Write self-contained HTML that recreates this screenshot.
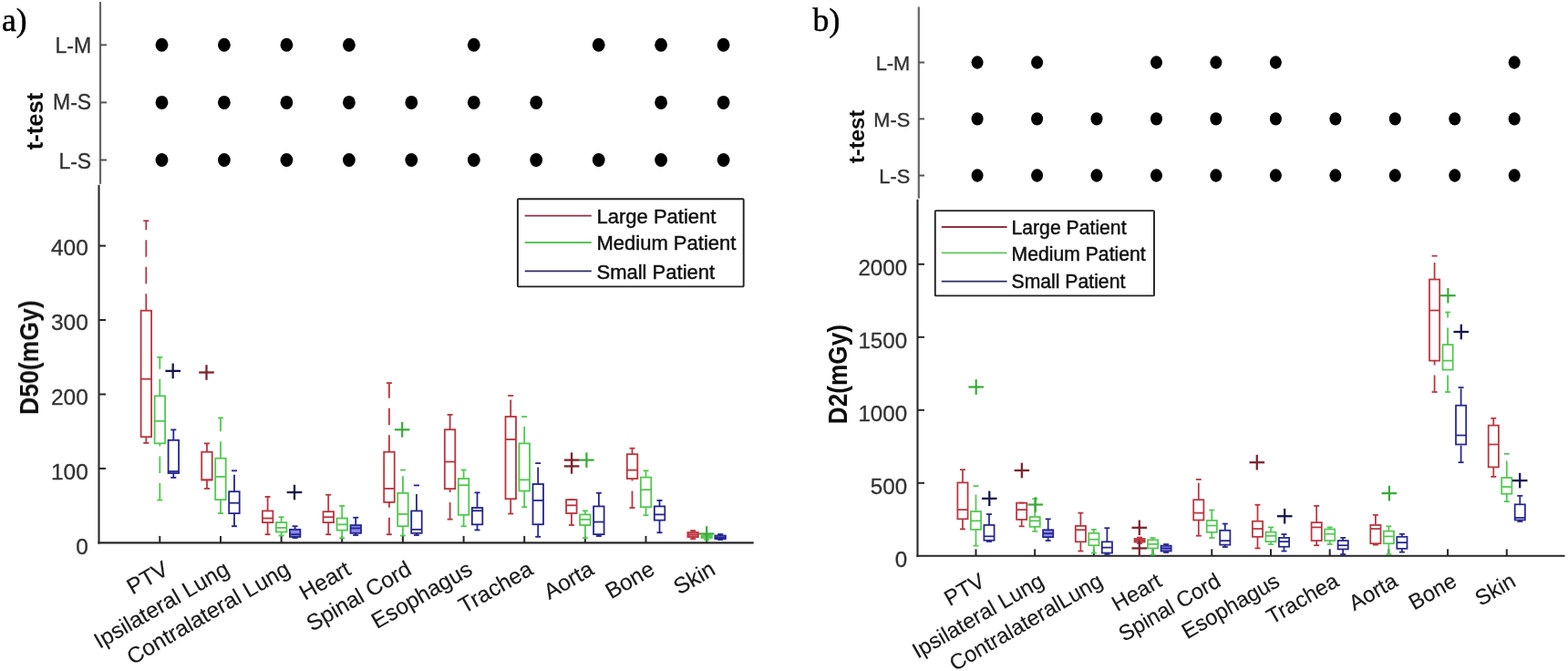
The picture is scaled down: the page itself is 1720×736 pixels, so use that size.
<!DOCTYPE html>
<html><head><meta charset="utf-8"><title>Boxplot figure</title>
<style>html,body{margin:0;padding:0;background:#fff;}svg{display:block;}</style></head>
<body><svg width="1720" height="736" viewBox="0 0 1720 736">
<defs><filter id="soft" filterUnits="userSpaceOnUse" x="0" y="0" width="1720" height="736"><feGaussianBlur stdDeviation="0.65"/></filter></defs>
<rect width="1720" height="736" fill="#fff"/>
<g filter="url(#soft)">
<text x="2.0" y="34.3" font-family="'Liberation Serif', 'Times New Roman', serif" font-size="35.5" font-weight="normal" fill="#000" text-anchor="start" stroke="#000" stroke-width="0.5">a)</text>
<line x1="110.0" y1="2.0" x2="110.0" y2="201.8" stroke="#666" stroke-width="2.2" />
<line x1="110.0" y1="49.3" x2="117.0" y2="49.3" stroke="#555" stroke-width="2" />
<line x1="110.0" y1="112.4" x2="117.0" y2="112.4" stroke="#555" stroke-width="2" />
<line x1="110.0" y1="175.5" x2="117.0" y2="175.5" stroke="#555" stroke-width="2" />
<text x="100.2" y="57.5" font-family="'Liberation Sans', Arial, sans-serif" font-size="23" font-weight="normal" fill="#333" text-anchor="end"  stroke="#333" stroke-width="0.35">L-M</text>
<text x="100.2" y="120.1" font-family="'Liberation Sans', Arial, sans-serif" font-size="23" font-weight="normal" fill="#333" text-anchor="end"  stroke="#333" stroke-width="0.35">M-S</text>
<text x="100.2" y="184.5" font-family="'Liberation Sans', Arial, sans-serif" font-size="23" font-weight="normal" fill="#333" text-anchor="end"  stroke="#333" stroke-width="0.35">L-S</text>
<text x="0.0" y="0.0" font-family="'Liberation Sans', Arial, sans-serif" font-size="25.5" font-weight="bold" fill="#111" text-anchor="middle" transform="translate(47,133) rotate(-90)" >t-test</text>
<ellipse cx="177.5" cy="49.3" rx="6.9" ry="7.5" fill="#000"/>
<ellipse cx="245.9" cy="49.3" rx="6.9" ry="7.5" fill="#000"/>
<ellipse cx="314.4" cy="49.3" rx="6.9" ry="7.5" fill="#000"/>
<ellipse cx="382.9" cy="49.3" rx="6.9" ry="7.5" fill="#000"/>
<ellipse cx="519.8" cy="49.3" rx="6.9" ry="7.5" fill="#000"/>
<ellipse cx="656.7" cy="49.3" rx="6.9" ry="7.5" fill="#000"/>
<ellipse cx="725.1" cy="49.3" rx="6.9" ry="7.5" fill="#000"/>
<ellipse cx="793.6" cy="49.3" rx="6.9" ry="7.5" fill="#000"/>
<ellipse cx="177.5" cy="112.4" rx="6.9" ry="7.5" fill="#000"/>
<ellipse cx="245.9" cy="112.4" rx="6.9" ry="7.5" fill="#000"/>
<ellipse cx="314.4" cy="112.4" rx="6.9" ry="7.5" fill="#000"/>
<ellipse cx="382.9" cy="112.4" rx="6.9" ry="7.5" fill="#000"/>
<ellipse cx="451.3" cy="112.4" rx="6.9" ry="7.5" fill="#000"/>
<ellipse cx="519.8" cy="112.4" rx="6.9" ry="7.5" fill="#000"/>
<ellipse cx="588.2" cy="112.4" rx="6.9" ry="7.5" fill="#000"/>
<ellipse cx="725.1" cy="112.4" rx="6.9" ry="7.5" fill="#000"/>
<ellipse cx="793.6" cy="112.4" rx="6.9" ry="7.5" fill="#000"/>
<ellipse cx="177.5" cy="175.5" rx="6.9" ry="7.5" fill="#000"/>
<ellipse cx="245.9" cy="175.5" rx="6.9" ry="7.5" fill="#000"/>
<ellipse cx="314.4" cy="175.5" rx="6.9" ry="7.5" fill="#000"/>
<ellipse cx="382.9" cy="175.5" rx="6.9" ry="7.5" fill="#000"/>
<ellipse cx="451.3" cy="175.5" rx="6.9" ry="7.5" fill="#000"/>
<ellipse cx="519.8" cy="175.5" rx="6.9" ry="7.5" fill="#000"/>
<ellipse cx="588.2" cy="175.5" rx="6.9" ry="7.5" fill="#000"/>
<ellipse cx="656.7" cy="175.5" rx="6.9" ry="7.5" fill="#000"/>
<ellipse cx="725.1" cy="175.5" rx="6.9" ry="7.5" fill="#000"/>
<ellipse cx="793.6" cy="175.5" rx="6.9" ry="7.5" fill="#000"/>
<line x1="108.5" y1="202.8" x2="108.5" y2="596.4" stroke="#262626" stroke-width="2.1" />
<line x1="107.5" y1="595.4" x2="826.7" y2="595.4" stroke="#262626" stroke-width="2.1" />
<text x="96.8" y="607.7" font-family="'Liberation Sans', Arial, sans-serif" font-size="24.5" font-weight="normal" fill="#333" text-anchor="end"  stroke="#333" stroke-width="0.3">0</text>
<line x1="108.5" y1="513.9" x2="116.0" y2="513.9" stroke="#262626" stroke-width="2" />
<text x="96.8" y="525.8" font-family="'Liberation Sans', Arial, sans-serif" font-size="24.5" font-weight="normal" fill="#333" text-anchor="end"  stroke="#333" stroke-width="0.3">100</text>
<line x1="108.5" y1="432.5" x2="116.0" y2="432.5" stroke="#262626" stroke-width="2" />
<text x="96.8" y="444.4" font-family="'Liberation Sans', Arial, sans-serif" font-size="24.5" font-weight="normal" fill="#333" text-anchor="end"  stroke="#333" stroke-width="0.3">200</text>
<line x1="108.5" y1="351.0" x2="116.0" y2="351.0" stroke="#262626" stroke-width="2" />
<text x="96.8" y="361.6" font-family="'Liberation Sans', Arial, sans-serif" font-size="24.5" font-weight="normal" fill="#333" text-anchor="end"  stroke="#333" stroke-width="0.3">300</text>
<line x1="108.5" y1="269.6" x2="116.0" y2="269.6" stroke="#262626" stroke-width="2" />
<text x="96.8" y="280.1" font-family="'Liberation Sans', Arial, sans-serif" font-size="24.5" font-weight="normal" fill="#333" text-anchor="end"  stroke="#333" stroke-width="0.3">400</text>
<line x1="175.3" y1="595.4" x2="175.3" y2="587.9" stroke="#262626" stroke-width="2" />
<text x="0.0" y="0.0" font-family="'Liberation Sans', Arial, sans-serif" font-size="24.5" font-weight="normal" fill="#1a1a1a" text-anchor="end" transform="translate(186.5,629) rotate(-30)"  stroke="#1a1a1a" stroke-width="0.15">PTV</text>
<line x1="242.0" y1="595.4" x2="242.0" y2="587.9" stroke="#262626" stroke-width="2" />
<text x="0.0" y="0.0" font-family="'Liberation Sans', Arial, sans-serif" font-size="24.5" font-weight="normal" fill="#1a1a1a" text-anchor="end" transform="translate(253.2,629) rotate(-30)"  stroke="#1a1a1a" stroke-width="0.15">Ipsilateral Lung</text>
<line x1="308.6" y1="595.4" x2="308.6" y2="587.9" stroke="#262626" stroke-width="2" />
<text x="0.0" y="0.0" font-family="'Liberation Sans', Arial, sans-serif" font-size="24.5" font-weight="normal" fill="#1a1a1a" text-anchor="end" transform="translate(319.8,629) rotate(-30)"  stroke="#1a1a1a" stroke-width="0.15">Contralateral Lung</text>
<line x1="375.2" y1="595.4" x2="375.2" y2="587.9" stroke="#262626" stroke-width="2" />
<text x="0.0" y="0.0" font-family="'Liberation Sans', Arial, sans-serif" font-size="24.5" font-weight="normal" fill="#1a1a1a" text-anchor="end" transform="translate(386.4,629) rotate(-30)"  stroke="#1a1a1a" stroke-width="0.15">Heart</text>
<line x1="441.9" y1="595.4" x2="441.9" y2="587.9" stroke="#262626" stroke-width="2" />
<text x="0.0" y="0.0" font-family="'Liberation Sans', Arial, sans-serif" font-size="24.5" font-weight="normal" fill="#1a1a1a" text-anchor="end" transform="translate(453.1,629) rotate(-30)"  stroke="#1a1a1a" stroke-width="0.15">Spinal Cord</text>
<line x1="508.6" y1="595.4" x2="508.6" y2="587.9" stroke="#262626" stroke-width="2" />
<text x="0.0" y="0.0" font-family="'Liberation Sans', Arial, sans-serif" font-size="24.5" font-weight="normal" fill="#1a1a1a" text-anchor="end" transform="translate(519.8,629) rotate(-30)"  stroke="#1a1a1a" stroke-width="0.15">Esophagus</text>
<line x1="575.2" y1="595.4" x2="575.2" y2="587.9" stroke="#262626" stroke-width="2" />
<text x="0.0" y="0.0" font-family="'Liberation Sans', Arial, sans-serif" font-size="24.5" font-weight="normal" fill="#1a1a1a" text-anchor="end" transform="translate(586.4,629) rotate(-30)"  stroke="#1a1a1a" stroke-width="0.15">Trachea</text>
<line x1="641.9" y1="595.4" x2="641.9" y2="587.9" stroke="#262626" stroke-width="2" />
<text x="0.0" y="0.0" font-family="'Liberation Sans', Arial, sans-serif" font-size="24.5" font-weight="normal" fill="#1a1a1a" text-anchor="end" transform="translate(653.1,629) rotate(-30)"  stroke="#1a1a1a" stroke-width="0.15">Aorta</text>
<line x1="708.5" y1="595.4" x2="708.5" y2="587.9" stroke="#262626" stroke-width="2" />
<text x="0.0" y="0.0" font-family="'Liberation Sans', Arial, sans-serif" font-size="24.5" font-weight="normal" fill="#1a1a1a" text-anchor="end" transform="translate(719.7,629) rotate(-30)"  stroke="#1a1a1a" stroke-width="0.15">Bone</text>
<line x1="775.2" y1="595.4" x2="775.2" y2="587.9" stroke="#262626" stroke-width="2" />
<text x="0.0" y="0.0" font-family="'Liberation Sans', Arial, sans-serif" font-size="24.5" font-weight="normal" fill="#1a1a1a" text-anchor="end" transform="translate(786.4,629) rotate(-30)"  stroke="#1a1a1a" stroke-width="0.15">Skin</text>
<text x="0.0" y="0.0" font-family="'Liberation Sans', Arial, sans-serif" font-size="26.6" font-weight="bold" fill="#111" text-anchor="middle" transform="translate(41.5,392.2) rotate(-90) scale(1,1.1)" >D50(mGy)</text>
<rect x="567.9" y="218.2" width="247.8" height="96.2" fill="#fff" stroke="#222" stroke-width="1.9" rx="1"/>
<line x1="575.7" y1="236.7" x2="648.8" y2="236.7" stroke="#8e3344" stroke-width="1.8" />
<text x="654.5" y="244.7" font-family="'Liberation Sans', Arial, sans-serif" font-size="22" font-weight="normal" fill="#111" text-anchor="start"  stroke="#111" stroke-width="0.45">Large Patient</text>
<line x1="575.7" y1="266.0" x2="648.8" y2="266.0" stroke="#5cc45c" stroke-width="1.8" />
<text x="654.5" y="274.4" font-family="'Liberation Sans', Arial, sans-serif" font-size="22" font-weight="normal" fill="#111" text-anchor="start"  stroke="#111" stroke-width="0.45">Medium Patient</text>
<line x1="575.7" y1="297.3" x2="648.8" y2="297.3" stroke="#2c2c66" stroke-width="1.8" />
<text x="654.5" y="306.0" font-family="'Liberation Sans', Arial, sans-serif" font-size="22" font-weight="normal" fill="#111" text-anchor="start"  stroke="#111" stroke-width="0.45">Small Patient</text>
<line x1="160.3" y1="340.7" x2="160.3" y2="242.2" stroke="#b8343f" stroke-width="1.8" stroke-dasharray="18.5 11"/>
<line x1="160.3" y1="485.9" x2="160.3" y2="479.2" stroke="#b8343f" stroke-width="1.8" stroke-dasharray="18.5 11"/>
<line x1="157.3" y1="242.2" x2="163.3" y2="242.2" stroke="#b8343f" stroke-width="1.8" />
<line x1="157.3" y1="485.9" x2="163.3" y2="485.9" stroke="#b8343f" stroke-width="1.8" />
<rect x="154.6" y="340.7" width="11.5" height="138.5" fill="none" stroke="#b8343f" stroke-width="1.8"/>
<line x1="154.6" y1="415.7" x2="166.1" y2="415.7" stroke="#b8343f" stroke-width="1.8" />
<line x1="175.3" y1="434.3" x2="175.3" y2="391.9" stroke="#50c850" stroke-width="1.8" stroke-dasharray="18.5 11"/>
<line x1="175.3" y1="548.6" x2="175.3" y2="486.3" stroke="#50c850" stroke-width="1.8" stroke-dasharray="18.5 11"/>
<line x1="172.3" y1="391.9" x2="178.3" y2="391.9" stroke="#50c850" stroke-width="1.8" />
<line x1="172.3" y1="548.6" x2="178.3" y2="548.6" stroke="#50c850" stroke-width="1.8" />
<rect x="169.6" y="434.3" width="11.5" height="52.0" fill="none" stroke="#50c850" stroke-width="1.8"/>
<line x1="169.6" y1="461.8" x2="181.1" y2="461.8" stroke="#50c850" stroke-width="1.8" />
<line x1="190.3" y1="482.8" x2="190.3" y2="471.4" stroke="#25258f" stroke-width="1.8" stroke-dasharray="18.5 11"/>
<line x1="190.3" y1="523.9" x2="190.3" y2="519.0" stroke="#25258f" stroke-width="1.8" stroke-dasharray="18.5 11"/>
<line x1="187.3" y1="471.4" x2="193.3" y2="471.4" stroke="#25258f" stroke-width="1.8" />
<line x1="187.3" y1="523.9" x2="193.3" y2="523.9" stroke="#25258f" stroke-width="1.8" />
<rect x="184.6" y="482.8" width="11.5" height="36.2" fill="none" stroke="#25258f" stroke-width="1.8"/>
<line x1="184.6" y1="517.0" x2="196.1" y2="517.0" stroke="#25258f" stroke-width="1.8" />
<line x1="227.0" y1="495.7" x2="227.0" y2="486.4" stroke="#b8343f" stroke-width="1.8" stroke-dasharray="18.5 11"/>
<line x1="227.0" y1="535.9" x2="227.0" y2="526.4" stroke="#b8343f" stroke-width="1.8" stroke-dasharray="18.5 11"/>
<line x1="224.0" y1="486.4" x2="230.0" y2="486.4" stroke="#b8343f" stroke-width="1.8" />
<line x1="224.0" y1="535.9" x2="230.0" y2="535.9" stroke="#b8343f" stroke-width="1.8" />
<rect x="221.2" y="495.7" width="11.5" height="30.7" fill="none" stroke="#b8343f" stroke-width="1.8"/>
<line x1="221.2" y1="526.4" x2="232.7" y2="526.4" stroke="#b8343f" stroke-width="1.8" />
<line x1="242.0" y1="502.7" x2="242.0" y2="458.4" stroke="#50c850" stroke-width="1.8" stroke-dasharray="18.5 11"/>
<line x1="242.0" y1="563.1" x2="242.0" y2="548.1" stroke="#50c850" stroke-width="1.8" stroke-dasharray="18.5 11"/>
<line x1="239.0" y1="458.4" x2="245.0" y2="458.4" stroke="#50c850" stroke-width="1.8" />
<line x1="239.0" y1="563.1" x2="245.0" y2="563.1" stroke="#50c850" stroke-width="1.8" />
<rect x="236.2" y="502.7" width="11.5" height="45.4" fill="none" stroke="#50c850" stroke-width="1.8"/>
<line x1="236.2" y1="522.9" x2="247.7" y2="522.9" stroke="#50c850" stroke-width="1.8" />
<line x1="257.0" y1="539.2" x2="257.0" y2="516.3" stroke="#25258f" stroke-width="1.8" stroke-dasharray="18.5 11"/>
<line x1="257.0" y1="577.2" x2="257.0" y2="563.1" stroke="#25258f" stroke-width="1.8" stroke-dasharray="18.5 11"/>
<line x1="254.0" y1="516.3" x2="260.0" y2="516.3" stroke="#25258f" stroke-width="1.8" />
<line x1="254.0" y1="577.2" x2="260.0" y2="577.2" stroke="#25258f" stroke-width="1.8" />
<rect x="251.2" y="539.2" width="11.5" height="23.9" fill="none" stroke="#25258f" stroke-width="1.8"/>
<line x1="251.2" y1="551.7" x2="262.7" y2="551.7" stroke="#25258f" stroke-width="1.8" />
<line x1="293.6" y1="560.4" x2="293.6" y2="544.9" stroke="#b8343f" stroke-width="1.8" stroke-dasharray="18.5 11"/>
<line x1="293.6" y1="586.2" x2="293.6" y2="573.1" stroke="#b8343f" stroke-width="1.8" stroke-dasharray="18.5 11"/>
<line x1="290.6" y1="544.9" x2="296.6" y2="544.9" stroke="#b8343f" stroke-width="1.8" />
<line x1="290.6" y1="586.2" x2="296.6" y2="586.2" stroke="#b8343f" stroke-width="1.8" />
<rect x="287.9" y="560.4" width="11.5" height="12.7" fill="none" stroke="#b8343f" stroke-width="1.8"/>
<line x1="287.9" y1="568.5" x2="299.4" y2="568.5" stroke="#b8343f" stroke-width="1.8" />
<line x1="308.6" y1="573.1" x2="308.6" y2="567.2" stroke="#50c850" stroke-width="1.8" stroke-dasharray="18.5 11"/>
<line x1="308.6" y1="587.5" x2="308.6" y2="583.5" stroke="#50c850" stroke-width="1.8" stroke-dasharray="18.5 11"/>
<line x1="305.6" y1="567.2" x2="311.6" y2="567.2" stroke="#50c850" stroke-width="1.8" />
<line x1="305.6" y1="587.5" x2="311.6" y2="587.5" stroke="#50c850" stroke-width="1.8" />
<rect x="302.9" y="573.1" width="11.5" height="10.4" fill="none" stroke="#50c850" stroke-width="1.8"/>
<line x1="302.9" y1="578.9" x2="314.4" y2="578.9" stroke="#50c850" stroke-width="1.8" />
<line x1="323.6" y1="580.8" x2="323.6" y2="577.2" stroke="#25258f" stroke-width="1.8" stroke-dasharray="18.5 11"/>
<line x1="323.6" y1="590.0" x2="323.6" y2="588.9" stroke="#25258f" stroke-width="1.8" stroke-dasharray="18.5 11"/>
<line x1="320.6" y1="577.2" x2="326.6" y2="577.2" stroke="#25258f" stroke-width="1.8" />
<line x1="320.6" y1="590.0" x2="326.6" y2="590.0" stroke="#25258f" stroke-width="1.8" />
<rect x="317.9" y="580.8" width="11.5" height="8.1" fill="#3a3ae0" fill-opacity="0.6" stroke="#25258f" stroke-width="1.8"/>
<line x1="317.9" y1="586.2" x2="329.4" y2="586.2" stroke="#25258f" stroke-width="1.8" />
<line x1="360.2" y1="561.2" x2="360.2" y2="542.7" stroke="#b8343f" stroke-width="1.8" stroke-dasharray="18.5 11"/>
<line x1="360.2" y1="586.2" x2="360.2" y2="573.1" stroke="#b8343f" stroke-width="1.8" stroke-dasharray="18.5 11"/>
<line x1="357.2" y1="542.7" x2="363.2" y2="542.7" stroke="#b8343f" stroke-width="1.8" />
<line x1="357.2" y1="586.2" x2="363.2" y2="586.2" stroke="#b8343f" stroke-width="1.8" />
<rect x="354.5" y="561.2" width="11.5" height="11.9" fill="none" stroke="#b8343f" stroke-width="1.8"/>
<line x1="354.5" y1="567.2" x2="366.0" y2="567.2" stroke="#b8343f" stroke-width="1.8" />
<line x1="375.2" y1="568.5" x2="375.2" y2="554.9" stroke="#50c850" stroke-width="1.8" stroke-dasharray="18.5 11"/>
<line x1="375.2" y1="590.3" x2="375.2" y2="581.6" stroke="#50c850" stroke-width="1.8" stroke-dasharray="18.5 11"/>
<line x1="372.2" y1="554.9" x2="378.2" y2="554.9" stroke="#50c850" stroke-width="1.8" />
<line x1="372.2" y1="590.3" x2="378.2" y2="590.3" stroke="#50c850" stroke-width="1.8" />
<rect x="369.5" y="568.5" width="11.5" height="13.1" fill="none" stroke="#50c850" stroke-width="1.8"/>
<line x1="369.5" y1="575.3" x2="381.0" y2="575.3" stroke="#50c850" stroke-width="1.8" />
<line x1="390.2" y1="576.1" x2="390.2" y2="567.7" stroke="#25258f" stroke-width="1.8" stroke-dasharray="18.5 11"/>
<line x1="390.2" y1="587.0" x2="390.2" y2="584.8" stroke="#25258f" stroke-width="1.8" stroke-dasharray="18.5 11"/>
<line x1="387.2" y1="567.7" x2="393.2" y2="567.7" stroke="#25258f" stroke-width="1.8" />
<line x1="387.2" y1="587.0" x2="393.2" y2="587.0" stroke="#25258f" stroke-width="1.8" />
<rect x="384.5" y="576.1" width="11.5" height="8.7" fill="#3a3ae0" fill-opacity="0.6" stroke="#25258f" stroke-width="1.8"/>
<line x1="384.5" y1="579.4" x2="396.0" y2="579.4" stroke="#25258f" stroke-width="1.8" />
<line x1="426.9" y1="495.7" x2="426.9" y2="420.1" stroke="#b8343f" stroke-width="1.8" stroke-dasharray="18.5 11"/>
<line x1="426.9" y1="586.2" x2="426.9" y2="550.9" stroke="#b8343f" stroke-width="1.8" stroke-dasharray="18.5 11"/>
<line x1="423.9" y1="420.1" x2="429.9" y2="420.1" stroke="#b8343f" stroke-width="1.8" />
<line x1="423.9" y1="586.2" x2="429.9" y2="586.2" stroke="#b8343f" stroke-width="1.8" />
<rect x="421.2" y="495.7" width="11.5" height="55.2" fill="none" stroke="#b8343f" stroke-width="1.8"/>
<line x1="421.2" y1="535.9" x2="432.7" y2="535.9" stroke="#b8343f" stroke-width="1.8" />
<line x1="441.9" y1="540.8" x2="441.9" y2="515.5" stroke="#50c850" stroke-width="1.8" stroke-dasharray="18.5 11"/>
<line x1="441.9" y1="587.5" x2="441.9" y2="577.2" stroke="#50c850" stroke-width="1.8" stroke-dasharray="18.5 11"/>
<line x1="438.9" y1="515.5" x2="444.9" y2="515.5" stroke="#50c850" stroke-width="1.8" />
<line x1="438.9" y1="587.5" x2="444.9" y2="587.5" stroke="#50c850" stroke-width="1.8" />
<rect x="436.2" y="540.8" width="11.5" height="36.4" fill="none" stroke="#50c850" stroke-width="1.8"/>
<line x1="436.2" y1="563.9" x2="447.7" y2="563.9" stroke="#50c850" stroke-width="1.8" />
<line x1="456.9" y1="560.4" x2="456.9" y2="532.4" stroke="#25258f" stroke-width="1.8" stroke-dasharray="18.5 11"/>
<line x1="456.9" y1="587.0" x2="456.9" y2="584.8" stroke="#25258f" stroke-width="1.8" stroke-dasharray="18.5 11"/>
<line x1="453.9" y1="532.4" x2="459.9" y2="532.4" stroke="#25258f" stroke-width="1.8" />
<line x1="453.9" y1="587.0" x2="459.9" y2="587.0" stroke="#25258f" stroke-width="1.8" />
<rect x="451.2" y="560.4" width="11.5" height="24.4" fill="none" stroke="#25258f" stroke-width="1.8"/>
<line x1="451.2" y1="580.8" x2="462.7" y2="580.8" stroke="#25258f" stroke-width="1.8" />
<line x1="493.6" y1="471.2" x2="493.6" y2="454.9" stroke="#b8343f" stroke-width="1.8" stroke-dasharray="18.5 11"/>
<line x1="493.6" y1="569.6" x2="493.6" y2="536.1" stroke="#b8343f" stroke-width="1.8" stroke-dasharray="18.5 11"/>
<line x1="490.6" y1="454.9" x2="496.6" y2="454.9" stroke="#b8343f" stroke-width="1.8" />
<line x1="490.6" y1="569.6" x2="496.6" y2="569.6" stroke="#b8343f" stroke-width="1.8" />
<rect x="487.8" y="471.2" width="11.5" height="64.9" fill="none" stroke="#b8343f" stroke-width="1.8"/>
<line x1="487.8" y1="506.5" x2="499.3" y2="506.5" stroke="#b8343f" stroke-width="1.8" />
<line x1="508.6" y1="525.0" x2="508.6" y2="515.5" stroke="#50c850" stroke-width="1.8" stroke-dasharray="18.5 11"/>
<line x1="508.6" y1="577.2" x2="508.6" y2="564.8" stroke="#50c850" stroke-width="1.8" stroke-dasharray="18.5 11"/>
<line x1="505.6" y1="515.5" x2="511.6" y2="515.5" stroke="#50c850" stroke-width="1.8" />
<line x1="505.6" y1="577.2" x2="511.6" y2="577.2" stroke="#50c850" stroke-width="1.8" />
<rect x="502.8" y="525.0" width="11.5" height="39.8" fill="none" stroke="#50c850" stroke-width="1.8"/>
<line x1="502.8" y1="532.2" x2="514.3" y2="532.2" stroke="#50c850" stroke-width="1.8" />
<line x1="523.5" y1="557.0" x2="523.5" y2="540.3" stroke="#25258f" stroke-width="1.8" stroke-dasharray="18.5 11"/>
<line x1="523.5" y1="581.4" x2="523.5" y2="575.3" stroke="#25258f" stroke-width="1.8" stroke-dasharray="18.5 11"/>
<line x1="520.5" y1="540.3" x2="526.5" y2="540.3" stroke="#25258f" stroke-width="1.8" />
<line x1="520.5" y1="581.4" x2="526.5" y2="581.4" stroke="#25258f" stroke-width="1.8" />
<rect x="517.8" y="557.0" width="11.5" height="18.3" fill="none" stroke="#25258f" stroke-width="1.8"/>
<line x1="517.8" y1="560.2" x2="529.3" y2="560.2" stroke="#25258f" stroke-width="1.8" />
<line x1="560.2" y1="457.0" x2="560.2" y2="434.0" stroke="#b8343f" stroke-width="1.8" stroke-dasharray="18.5 11"/>
<line x1="560.2" y1="563.5" x2="560.2" y2="547.2" stroke="#b8343f" stroke-width="1.8" stroke-dasharray="18.5 11"/>
<line x1="557.2" y1="434.0" x2="563.2" y2="434.0" stroke="#b8343f" stroke-width="1.8" />
<line x1="557.2" y1="563.5" x2="563.2" y2="563.5" stroke="#b8343f" stroke-width="1.8" />
<rect x="554.5" y="457.0" width="11.5" height="90.2" fill="none" stroke="#b8343f" stroke-width="1.8"/>
<line x1="554.5" y1="482.0" x2="566.0" y2="482.0" stroke="#b8343f" stroke-width="1.8" />
<line x1="575.2" y1="486.4" x2="575.2" y2="457.0" stroke="#50c850" stroke-width="1.8" stroke-dasharray="18.5 11"/>
<line x1="575.2" y1="556.2" x2="575.2" y2="538.5" stroke="#50c850" stroke-width="1.8" stroke-dasharray="18.5 11"/>
<line x1="572.2" y1="457.0" x2="578.2" y2="457.0" stroke="#50c850" stroke-width="1.8" />
<line x1="572.2" y1="556.2" x2="578.2" y2="556.2" stroke="#50c850" stroke-width="1.8" />
<rect x="569.5" y="486.4" width="11.5" height="52.1" fill="none" stroke="#50c850" stroke-width="1.8"/>
<line x1="569.5" y1="526.3" x2="581.0" y2="526.3" stroke="#50c850" stroke-width="1.8" />
<line x1="590.2" y1="531.0" x2="590.2" y2="508.1" stroke="#25258f" stroke-width="1.8" stroke-dasharray="18.5 11"/>
<line x1="590.2" y1="588.8" x2="590.2" y2="575.2" stroke="#25258f" stroke-width="1.8" stroke-dasharray="18.5 11"/>
<line x1="587.2" y1="508.1" x2="593.2" y2="508.1" stroke="#25258f" stroke-width="1.8" />
<line x1="587.2" y1="588.8" x2="593.2" y2="588.8" stroke="#25258f" stroke-width="1.8" />
<rect x="584.5" y="531.0" width="11.5" height="44.2" fill="none" stroke="#25258f" stroke-width="1.8"/>
<line x1="584.5" y1="548.9" x2="596.0" y2="548.9" stroke="#25258f" stroke-width="1.8" />
<line x1="626.9" y1="576.0" x2="626.9" y2="563.0" stroke="#b8343f" stroke-width="1.8" stroke-dasharray="18.5 11"/>
<line x1="623.9" y1="548.1" x2="629.9" y2="548.1" stroke="#b8343f" stroke-width="1.8" />
<line x1="623.9" y1="576.0" x2="629.9" y2="576.0" stroke="#b8343f" stroke-width="1.8" />
<rect x="621.1" y="548.1" width="11.5" height="14.9" fill="none" stroke="#b8343f" stroke-width="1.8"/>
<line x1="621.1" y1="554.3" x2="632.6" y2="554.3" stroke="#b8343f" stroke-width="1.8" />
<line x1="641.9" y1="564.4" x2="641.9" y2="560.3" stroke="#50c850" stroke-width="1.8" stroke-dasharray="18.5 11"/>
<line x1="641.9" y1="590.2" x2="641.9" y2="576.0" stroke="#50c850" stroke-width="1.8" stroke-dasharray="18.5 11"/>
<line x1="638.9" y1="560.3" x2="644.9" y2="560.3" stroke="#50c850" stroke-width="1.8" />
<line x1="638.9" y1="590.2" x2="644.9" y2="590.2" stroke="#50c850" stroke-width="1.8" />
<rect x="636.1" y="564.4" width="11.5" height="11.6" fill="none" stroke="#50c850" stroke-width="1.8"/>
<line x1="636.1" y1="569.8" x2="647.6" y2="569.8" stroke="#50c850" stroke-width="1.8" />
<line x1="656.9" y1="555.4" x2="656.9" y2="540.7" stroke="#25258f" stroke-width="1.8" stroke-dasharray="18.5 11"/>
<line x1="656.9" y1="588.0" x2="656.9" y2="586.1" stroke="#25258f" stroke-width="1.8" stroke-dasharray="18.5 11"/>
<line x1="653.9" y1="540.7" x2="659.9" y2="540.7" stroke="#25258f" stroke-width="1.8" />
<line x1="653.9" y1="588.0" x2="659.9" y2="588.0" stroke="#25258f" stroke-width="1.8" />
<rect x="651.1" y="555.4" width="11.5" height="30.7" fill="none" stroke="#25258f" stroke-width="1.8"/>
<line x1="651.1" y1="572.5" x2="662.6" y2="572.5" stroke="#25258f" stroke-width="1.8" />
<line x1="693.5" y1="498.2" x2="693.5" y2="491.7" stroke="#b8343f" stroke-width="1.8" stroke-dasharray="18.5 11"/>
<line x1="693.5" y1="557.0" x2="693.5" y2="525.0" stroke="#b8343f" stroke-width="1.8" stroke-dasharray="18.5 11"/>
<line x1="690.5" y1="491.7" x2="696.5" y2="491.7" stroke="#b8343f" stroke-width="1.8" />
<line x1="690.5" y1="557.0" x2="696.5" y2="557.0" stroke="#b8343f" stroke-width="1.8" />
<rect x="687.8" y="498.2" width="11.5" height="26.8" fill="none" stroke="#b8343f" stroke-width="1.8"/>
<line x1="687.8" y1="515.6" x2="699.2" y2="515.6" stroke="#b8343f" stroke-width="1.8" />
<line x1="708.5" y1="523.6" x2="708.5" y2="516.3" stroke="#50c850" stroke-width="1.8" stroke-dasharray="18.5 11"/>
<line x1="708.5" y1="565.2" x2="708.5" y2="556.2" stroke="#50c850" stroke-width="1.8" stroke-dasharray="18.5 11"/>
<line x1="705.5" y1="516.3" x2="711.5" y2="516.3" stroke="#50c850" stroke-width="1.8" />
<line x1="705.5" y1="565.2" x2="711.5" y2="565.2" stroke="#50c850" stroke-width="1.8" />
<rect x="702.8" y="523.6" width="11.5" height="32.6" fill="none" stroke="#50c850" stroke-width="1.8"/>
<line x1="702.8" y1="537.2" x2="714.2" y2="537.2" stroke="#50c850" stroke-width="1.8" />
<line x1="723.5" y1="555.4" x2="723.5" y2="548.9" stroke="#25258f" stroke-width="1.8" stroke-dasharray="18.5 11"/>
<line x1="723.5" y1="584.2" x2="723.5" y2="570.6" stroke="#25258f" stroke-width="1.8" stroke-dasharray="18.5 11"/>
<line x1="720.5" y1="548.9" x2="726.5" y2="548.9" stroke="#25258f" stroke-width="1.8" />
<line x1="720.5" y1="584.2" x2="726.5" y2="584.2" stroke="#25258f" stroke-width="1.8" />
<rect x="717.8" y="555.4" width="11.5" height="15.2" fill="none" stroke="#25258f" stroke-width="1.8"/>
<line x1="717.8" y1="564.4" x2="729.2" y2="564.4" stroke="#25258f" stroke-width="1.8" />
<line x1="760.2" y1="584.0" x2="760.2" y2="582.0" stroke="#b8343f" stroke-width="1.8" stroke-dasharray="18.5 11"/>
<line x1="760.2" y1="591.0" x2="760.2" y2="589.0" stroke="#b8343f" stroke-width="1.8" stroke-dasharray="18.5 11"/>
<line x1="757.2" y1="582.0" x2="763.2" y2="582.0" stroke="#b8343f" stroke-width="1.8" />
<line x1="757.2" y1="591.0" x2="763.2" y2="591.0" stroke="#b8343f" stroke-width="1.8" />
<rect x="754.4" y="584.0" width="11.5" height="5.0" fill="#e8303c" fill-opacity="0.6" stroke="#b8343f" stroke-width="1.8"/>
<line x1="754.4" y1="586.5" x2="765.9" y2="586.5" stroke="#b8343f" stroke-width="1.8" />
<line x1="775.2" y1="587.5" x2="775.2" y2="586.0" stroke="#50c850" stroke-width="1.8" stroke-dasharray="18.5 11"/>
<line x1="775.2" y1="592.0" x2="775.2" y2="590.0" stroke="#50c850" stroke-width="1.8" stroke-dasharray="18.5 11"/>
<line x1="772.2" y1="586.0" x2="778.2" y2="586.0" stroke="#50c850" stroke-width="1.8" />
<line x1="772.2" y1="592.0" x2="778.2" y2="592.0" stroke="#50c850" stroke-width="1.8" />
<rect x="769.4" y="587.5" width="11.5" height="2.5" fill="#30e030" fill-opacity="0.6" stroke="#50c850" stroke-width="1.8"/>
<line x1="769.4" y1="588.5" x2="780.9" y2="588.5" stroke="#50c850" stroke-width="1.8" />
<line x1="790.2" y1="587.5" x2="790.2" y2="586.0" stroke="#25258f" stroke-width="1.8" stroke-dasharray="18.5 11"/>
<line x1="790.2" y1="592.0" x2="790.2" y2="591.0" stroke="#25258f" stroke-width="1.8" stroke-dasharray="18.5 11"/>
<line x1="787.2" y1="586.0" x2="793.2" y2="586.0" stroke="#25258f" stroke-width="1.8" />
<line x1="787.2" y1="592.0" x2="793.2" y2="592.0" stroke="#25258f" stroke-width="1.8" />
<rect x="784.4" y="587.5" width="11.5" height="3.5" fill="#3a3ae0" fill-opacity="0.6" stroke="#25258f" stroke-width="1.8"/>
<line x1="784.4" y1="589.5" x2="795.9" y2="589.5" stroke="#25258f" stroke-width="1.8" />
<line x1="218.2" y1="408.5" x2="234.8" y2="408.5" stroke="#7a2632" stroke-width="2.3" />
<line x1="226.5" y1="400.2" x2="226.5" y2="416.8" stroke="#7a2632" stroke-width="2.3" />
<line x1="618.8" y1="504.6" x2="635.4" y2="504.6" stroke="#7a2632" stroke-width="2.3" />
<line x1="627.1" y1="496.3" x2="627.1" y2="512.9" stroke="#7a2632" stroke-width="2.3" />
<line x1="618.8" y1="511.4" x2="635.4" y2="511.4" stroke="#7a2632" stroke-width="2.3" />
<line x1="627.1" y1="503.1" x2="627.1" y2="519.7" stroke="#7a2632" stroke-width="2.3" />
<line x1="432.9" y1="471.3" x2="449.5" y2="471.3" stroke="#3aa83a" stroke-width="2.2" />
<line x1="441.2" y1="463.0" x2="441.2" y2="479.6" stroke="#3aa83a" stroke-width="2.2" />
<line x1="635.1" y1="504.6" x2="651.7" y2="504.6" stroke="#3aa83a" stroke-width="2.2" />
<line x1="643.4" y1="496.3" x2="643.4" y2="512.9" stroke="#3aa83a" stroke-width="2.2" />
<line x1="766.9" y1="585.5" x2="783.5" y2="585.5" stroke="#3aa83a" stroke-width="2.2" />
<line x1="775.2" y1="577.2" x2="775.2" y2="593.8" stroke="#3aa83a" stroke-width="2.2" />
<line x1="181.4" y1="406.9" x2="198.0" y2="406.9" stroke="#16164e" stroke-width="2.3" />
<line x1="189.7" y1="398.6" x2="189.7" y2="415.2" stroke="#16164e" stroke-width="2.3" />
<line x1="314.7" y1="540.0" x2="331.3" y2="540.0" stroke="#16164e" stroke-width="2.3" />
<line x1="323.0" y1="531.7" x2="323.0" y2="548.3" stroke="#16164e" stroke-width="2.3" />
<text x="891.5" y="33.8" font-family="'Liberation Serif', 'Times New Roman', serif" font-size="35.8" font-weight="normal" fill="#000" text-anchor="start" stroke="#000" stroke-width="0.5">b)</text>
<line x1="1007.8" y1="7.5" x2="1007.8" y2="217.7" stroke="#666" stroke-width="2.2" />
<line x1="1007.8" y1="68.5" x2="1014.0" y2="68.5" stroke="#555" stroke-width="2" />
<line x1="1007.8" y1="130.4" x2="1014.0" y2="130.4" stroke="#555" stroke-width="2" />
<line x1="1007.8" y1="192.5" x2="1014.0" y2="192.5" stroke="#555" stroke-width="2" />
<text x="998.2" y="77.3" font-family="'Liberation Sans', Arial, sans-serif" font-size="21.8" font-weight="normal" fill="#333" text-anchor="end"  stroke="#333" stroke-width="0.35">L-M</text>
<text x="998.2" y="138.7" font-family="'Liberation Sans', Arial, sans-serif" font-size="21.8" font-weight="normal" fill="#333" text-anchor="end"  stroke="#333" stroke-width="0.35">M-S</text>
<text x="998.2" y="200.8" font-family="'Liberation Sans', Arial, sans-serif" font-size="21.8" font-weight="normal" fill="#333" text-anchor="end"  stroke="#333" stroke-width="0.35">L-S</text>
<text x="0.0" y="0.0" font-family="'Liberation Sans', Arial, sans-serif" font-size="24" font-weight="bold" fill="#111" text-anchor="middle" transform="translate(948,150) rotate(-90)" >t-test</text>
<ellipse cx="1072.1" cy="68.5" rx="6.5" ry="7.2" fill="#000"/>
<ellipse cx="1137.6" cy="68.5" rx="6.5" ry="7.2" fill="#000"/>
<ellipse cx="1268.5" cy="68.5" rx="6.5" ry="7.2" fill="#000"/>
<ellipse cx="1333.9" cy="68.5" rx="6.5" ry="7.2" fill="#000"/>
<ellipse cx="1399.4" cy="68.5" rx="6.5" ry="7.2" fill="#000"/>
<ellipse cx="1661.2" cy="68.5" rx="6.5" ry="7.2" fill="#000"/>
<ellipse cx="1072.1" cy="130.4" rx="6.5" ry="7.2" fill="#000"/>
<ellipse cx="1137.6" cy="130.4" rx="6.5" ry="7.2" fill="#000"/>
<ellipse cx="1203.0" cy="130.4" rx="6.5" ry="7.2" fill="#000"/>
<ellipse cx="1268.5" cy="130.4" rx="6.5" ry="7.2" fill="#000"/>
<ellipse cx="1333.9" cy="130.4" rx="6.5" ry="7.2" fill="#000"/>
<ellipse cx="1399.4" cy="130.4" rx="6.5" ry="7.2" fill="#000"/>
<ellipse cx="1464.9" cy="130.4" rx="6.5" ry="7.2" fill="#000"/>
<ellipse cx="1530.3" cy="130.4" rx="6.5" ry="7.2" fill="#000"/>
<ellipse cx="1595.8" cy="130.4" rx="6.5" ry="7.2" fill="#000"/>
<ellipse cx="1661.2" cy="130.4" rx="6.5" ry="7.2" fill="#000"/>
<ellipse cx="1072.1" cy="192.5" rx="6.5" ry="7.2" fill="#000"/>
<ellipse cx="1137.6" cy="192.5" rx="6.5" ry="7.2" fill="#000"/>
<ellipse cx="1203.0" cy="192.5" rx="6.5" ry="7.2" fill="#000"/>
<ellipse cx="1268.5" cy="192.5" rx="6.5" ry="7.2" fill="#000"/>
<ellipse cx="1333.9" cy="192.5" rx="6.5" ry="7.2" fill="#000"/>
<ellipse cx="1399.4" cy="192.5" rx="6.5" ry="7.2" fill="#000"/>
<ellipse cx="1464.9" cy="192.5" rx="6.5" ry="7.2" fill="#000"/>
<ellipse cx="1530.3" cy="192.5" rx="6.5" ry="7.2" fill="#000"/>
<ellipse cx="1595.8" cy="192.5" rx="6.5" ry="7.2" fill="#000"/>
<ellipse cx="1661.2" cy="192.5" rx="6.5" ry="7.2" fill="#000"/>
<line x1="1006.5" y1="218.7" x2="1006.5" y2="610.8" stroke="#262626" stroke-width="2.1" />
<line x1="1005.5" y1="609.8" x2="1716.5" y2="609.8" stroke="#262626" stroke-width="2.1" />
<text x="995.2" y="621.8" font-family="'Liberation Sans', Arial, sans-serif" font-size="24.2" font-weight="normal" fill="#333" text-anchor="end"  stroke="#333" stroke-width="0.3">0</text>
<line x1="1006.5" y1="529.8" x2="1014.0" y2="529.8" stroke="#262626" stroke-width="2" />
<text x="995.2" y="541.8" font-family="'Liberation Sans', Arial, sans-serif" font-size="24.2" font-weight="normal" fill="#333" text-anchor="end"  stroke="#333" stroke-width="0.3">500</text>
<line x1="1006.5" y1="449.8" x2="1014.0" y2="449.8" stroke="#262626" stroke-width="2" />
<text x="995.2" y="461.8" font-family="'Liberation Sans', Arial, sans-serif" font-size="24.2" font-weight="normal" fill="#333" text-anchor="end"  stroke="#333" stroke-width="0.3">1000</text>
<line x1="1006.5" y1="369.8" x2="1014.0" y2="369.8" stroke="#262626" stroke-width="2" />
<text x="995.2" y="381.8" font-family="'Liberation Sans', Arial, sans-serif" font-size="24.2" font-weight="normal" fill="#333" text-anchor="end"  stroke="#333" stroke-width="0.3">1500</text>
<line x1="1006.5" y1="289.8" x2="1014.0" y2="289.8" stroke="#262626" stroke-width="2" />
<text x="995.2" y="301.8" font-family="'Liberation Sans', Arial, sans-serif" font-size="24.2" font-weight="normal" fill="#333" text-anchor="end"  stroke="#333" stroke-width="0.3">2000</text>
<line x1="1070.5" y1="609.8" x2="1070.5" y2="602.3" stroke="#262626" stroke-width="2" />
<text x="0.0" y="0.0" font-family="'Liberation Sans', Arial, sans-serif" font-size="23.8" font-weight="normal" fill="#1a1a1a" text-anchor="end" transform="translate(1081.9,642) rotate(-30)"  stroke="#1a1a1a" stroke-width="0.15">PTV</text>
<line x1="1135.2" y1="609.8" x2="1135.2" y2="602.3" stroke="#262626" stroke-width="2" />
<text x="0.0" y="0.0" font-family="'Liberation Sans', Arial, sans-serif" font-size="23.8" font-weight="normal" fill="#1a1a1a" text-anchor="end" transform="translate(1146.6,642) rotate(-30)"  stroke="#1a1a1a" stroke-width="0.15">Ipsilateral Lung</text>
<line x1="1199.9" y1="609.8" x2="1199.9" y2="602.3" stroke="#262626" stroke-width="2" />
<text x="0.0" y="0.0" font-family="'Liberation Sans', Arial, sans-serif" font-size="23.8" font-weight="normal" fill="#1a1a1a" text-anchor="end" transform="translate(1211.3,642) rotate(-30)"  stroke="#1a1a1a" stroke-width="0.15">ContralateralLung</text>
<line x1="1264.6" y1="609.8" x2="1264.6" y2="602.3" stroke="#262626" stroke-width="2" />
<text x="0.0" y="0.0" font-family="'Liberation Sans', Arial, sans-serif" font-size="23.8" font-weight="normal" fill="#1a1a1a" text-anchor="end" transform="translate(1276.0,642) rotate(-30)"  stroke="#1a1a1a" stroke-width="0.15">Heart</text>
<line x1="1329.3" y1="609.8" x2="1329.3" y2="602.3" stroke="#262626" stroke-width="2" />
<text x="0.0" y="0.0" font-family="'Liberation Sans', Arial, sans-serif" font-size="23.8" font-weight="normal" fill="#1a1a1a" text-anchor="end" transform="translate(1340.7,642) rotate(-30)"  stroke="#1a1a1a" stroke-width="0.15">Spinal Cord</text>
<line x1="1394.0" y1="609.8" x2="1394.0" y2="602.3" stroke="#262626" stroke-width="2" />
<text x="0.0" y="0.0" font-family="'Liberation Sans', Arial, sans-serif" font-size="23.8" font-weight="normal" fill="#1a1a1a" text-anchor="end" transform="translate(1405.4,642) rotate(-30)"  stroke="#1a1a1a" stroke-width="0.15">Esophagus</text>
<line x1="1458.7" y1="609.8" x2="1458.7" y2="602.3" stroke="#262626" stroke-width="2" />
<text x="0.0" y="0.0" font-family="'Liberation Sans', Arial, sans-serif" font-size="23.8" font-weight="normal" fill="#1a1a1a" text-anchor="end" transform="translate(1470.1,642) rotate(-30)"  stroke="#1a1a1a" stroke-width="0.15">Trachea</text>
<line x1="1523.4" y1="609.8" x2="1523.4" y2="602.3" stroke="#262626" stroke-width="2" />
<text x="0.0" y="0.0" font-family="'Liberation Sans', Arial, sans-serif" font-size="23.8" font-weight="normal" fill="#1a1a1a" text-anchor="end" transform="translate(1534.8,642) rotate(-30)"  stroke="#1a1a1a" stroke-width="0.15">Aorta</text>
<line x1="1588.1" y1="609.8" x2="1588.1" y2="602.3" stroke="#262626" stroke-width="2" />
<text x="0.0" y="0.0" font-family="'Liberation Sans', Arial, sans-serif" font-size="23.8" font-weight="normal" fill="#1a1a1a" text-anchor="end" transform="translate(1599.5,642) rotate(-30)"  stroke="#1a1a1a" stroke-width="0.15">Bone</text>
<line x1="1652.8" y1="609.8" x2="1652.8" y2="602.3" stroke="#262626" stroke-width="2" />
<text x="0.0" y="0.0" font-family="'Liberation Sans', Arial, sans-serif" font-size="23.8" font-weight="normal" fill="#1a1a1a" text-anchor="end" transform="translate(1664.2,642) rotate(-30)"  stroke="#1a1a1a" stroke-width="0.15">Skin</text>
<text x="0.0" y="0.0" font-family="'Liberation Sans', Arial, sans-serif" font-size="26.2" font-weight="bold" fill="#111" text-anchor="middle" transform="translate(929.2,410.6) rotate(-90) scale(1,1.1)" >D2(mGy)</text>
<rect x="1025.8" y="231.1" width="240.2" height="93.3" fill="#fff" stroke="#222" stroke-width="1.9" rx="1"/>
<line x1="1032.8" y1="249.0" x2="1104.6" y2="249.0" stroke="#8e3344" stroke-width="1.8" />
<text x="1109.5" y="257.2" font-family="'Liberation Sans', Arial, sans-serif" font-size="21.2" font-weight="normal" fill="#111" text-anchor="start"  stroke="#111" stroke-width="0.45">Large Patient</text>
<line x1="1032.8" y1="277.4" x2="1104.6" y2="277.4" stroke="#5cc45c" stroke-width="1.8" />
<text x="1109.5" y="285.6" font-family="'Liberation Sans', Arial, sans-serif" font-size="21.2" font-weight="normal" fill="#111" text-anchor="start"  stroke="#111" stroke-width="0.45">Medium Patient</text>
<line x1="1032.8" y1="308.6" x2="1104.6" y2="308.6" stroke="#2c2c66" stroke-width="1.8" />
<text x="1109.5" y="316.2" font-family="'Liberation Sans', Arial, sans-serif" font-size="21.2" font-weight="normal" fill="#111" text-anchor="start"  stroke="#111" stroke-width="0.45">Small Patient</text>
<line x1="1056.0" y1="529.4" x2="1056.0" y2="515.2" stroke="#b8343f" stroke-width="1.75" stroke-dasharray="18.5 11"/>
<line x1="1056.0" y1="580.4" x2="1056.0" y2="569.3" stroke="#b8343f" stroke-width="1.75" stroke-dasharray="18.5 11"/>
<line x1="1053.0" y1="515.2" x2="1059.0" y2="515.2" stroke="#b8343f" stroke-width="1.75" />
<line x1="1053.0" y1="580.4" x2="1059.0" y2="580.4" stroke="#b8343f" stroke-width="1.75" />
<rect x="1050.4" y="529.4" width="11.2" height="39.9" fill="none" stroke="#b8343f" stroke-width="1.75"/>
<line x1="1050.4" y1="559.1" x2="1061.6" y2="559.1" stroke="#b8343f" stroke-width="1.75" />
<line x1="1070.5" y1="561.0" x2="1070.5" y2="533.0" stroke="#50c850" stroke-width="1.75" stroke-dasharray="18.5 11"/>
<line x1="1070.5" y1="598.6" x2="1070.5" y2="580.8" stroke="#50c850" stroke-width="1.75" stroke-dasharray="18.5 11"/>
<line x1="1067.5" y1="533.0" x2="1073.5" y2="533.0" stroke="#50c850" stroke-width="1.75" />
<line x1="1067.5" y1="598.6" x2="1073.5" y2="598.6" stroke="#50c850" stroke-width="1.75" />
<rect x="1064.9" y="561.0" width="11.2" height="19.8" fill="none" stroke="#50c850" stroke-width="1.75"/>
<line x1="1064.9" y1="571.3" x2="1076.1" y2="571.3" stroke="#50c850" stroke-width="1.75" />
<line x1="1085.0" y1="575.9" x2="1085.0" y2="564.0" stroke="#25258f" stroke-width="1.75" stroke-dasharray="18.5 11"/>
<line x1="1085.0" y1="594.0" x2="1085.0" y2="592.7" stroke="#25258f" stroke-width="1.75" stroke-dasharray="18.5 11"/>
<line x1="1082.0" y1="564.0" x2="1088.0" y2="564.0" stroke="#25258f" stroke-width="1.75" />
<line x1="1082.0" y1="594.0" x2="1088.0" y2="594.0" stroke="#25258f" stroke-width="1.75" />
<rect x="1079.4" y="575.9" width="11.2" height="16.8" fill="none" stroke="#25258f" stroke-width="1.75"/>
<line x1="1079.4" y1="588.3" x2="1090.6" y2="588.3" stroke="#25258f" stroke-width="1.75" />
<line x1="1120.7" y1="577.3" x2="1120.7" y2="569.9" stroke="#b8343f" stroke-width="1.75" stroke-dasharray="18.5 11"/>
<line x1="1117.7" y1="551.6" x2="1123.7" y2="551.6" stroke="#b8343f" stroke-width="1.75" />
<line x1="1117.7" y1="577.3" x2="1123.7" y2="577.3" stroke="#b8343f" stroke-width="1.75" />
<rect x="1115.1" y="551.6" width="11.2" height="18.3" fill="none" stroke="#b8343f" stroke-width="1.75"/>
<line x1="1115.1" y1="559.1" x2="1126.3" y2="559.1" stroke="#b8343f" stroke-width="1.75" />
<line x1="1135.2" y1="567.0" x2="1135.2" y2="547.2" stroke="#50c850" stroke-width="1.75" stroke-dasharray="18.5 11"/>
<line x1="1135.2" y1="582.8" x2="1135.2" y2="577.8" stroke="#50c850" stroke-width="1.75" stroke-dasharray="18.5 11"/>
<line x1="1132.2" y1="547.2" x2="1138.2" y2="547.2" stroke="#50c850" stroke-width="1.75" />
<line x1="1132.2" y1="582.8" x2="1138.2" y2="582.8" stroke="#50c850" stroke-width="1.75" />
<rect x="1129.6" y="567.0" width="11.2" height="10.8" fill="none" stroke="#50c850" stroke-width="1.75"/>
<line x1="1129.6" y1="571.3" x2="1140.8" y2="571.3" stroke="#50c850" stroke-width="1.75" />
<line x1="1149.7" y1="581.2" x2="1149.7" y2="569.3" stroke="#25258f" stroke-width="1.75" stroke-dasharray="18.5 11"/>
<line x1="1149.7" y1="593.0" x2="1149.7" y2="589.1" stroke="#25258f" stroke-width="1.75" stroke-dasharray="18.5 11"/>
<line x1="1146.7" y1="569.3" x2="1152.7" y2="569.3" stroke="#25258f" stroke-width="1.75" />
<line x1="1146.7" y1="593.0" x2="1152.7" y2="593.0" stroke="#25258f" stroke-width="1.75" />
<rect x="1144.1" y="581.2" width="11.2" height="7.9" fill="#3a3ae0" fill-opacity="0.6" stroke="#25258f" stroke-width="1.75"/>
<line x1="1144.1" y1="585.2" x2="1155.3" y2="585.2" stroke="#25258f" stroke-width="1.75" />
<line x1="1185.4" y1="576.9" x2="1185.4" y2="562.6" stroke="#b8343f" stroke-width="1.75" stroke-dasharray="18.5 11"/>
<line x1="1185.4" y1="604.5" x2="1185.4" y2="594.3" stroke="#b8343f" stroke-width="1.75" stroke-dasharray="18.5 11"/>
<line x1="1182.4" y1="562.6" x2="1188.4" y2="562.6" stroke="#b8343f" stroke-width="1.75" />
<line x1="1182.4" y1="604.5" x2="1188.4" y2="604.5" stroke="#b8343f" stroke-width="1.75" />
<rect x="1179.8" y="576.9" width="11.2" height="17.4" fill="none" stroke="#b8343f" stroke-width="1.75"/>
<line x1="1179.8" y1="581.2" x2="1191.0" y2="581.2" stroke="#b8343f" stroke-width="1.75" />
<line x1="1199.9" y1="584.8" x2="1199.9" y2="580.8" stroke="#50c850" stroke-width="1.75" stroke-dasharray="18.5 11"/>
<line x1="1199.9" y1="606.5" x2="1199.9" y2="598.2" stroke="#50c850" stroke-width="1.75" stroke-dasharray="18.5 11"/>
<line x1="1196.9" y1="580.8" x2="1202.9" y2="580.8" stroke="#50c850" stroke-width="1.75" />
<line x1="1196.9" y1="606.5" x2="1202.9" y2="606.5" stroke="#50c850" stroke-width="1.75" />
<rect x="1194.3" y="584.8" width="11.2" height="13.4" fill="none" stroke="#50c850" stroke-width="1.75"/>
<line x1="1194.3" y1="591.7" x2="1205.5" y2="591.7" stroke="#50c850" stroke-width="1.75" />
<line x1="1214.4" y1="594.3" x2="1214.4" y2="579.2" stroke="#25258f" stroke-width="1.75" stroke-dasharray="18.5 11"/>
<line x1="1214.4" y1="608.0" x2="1214.4" y2="606.5" stroke="#25258f" stroke-width="1.75" stroke-dasharray="18.5 11"/>
<line x1="1211.4" y1="579.2" x2="1217.4" y2="579.2" stroke="#25258f" stroke-width="1.75" />
<line x1="1211.4" y1="608.0" x2="1217.4" y2="608.0" stroke="#25258f" stroke-width="1.75" />
<rect x="1208.8" y="594.3" width="11.2" height="12.2" fill="none" stroke="#25258f" stroke-width="1.75"/>
<line x1="1208.8" y1="600.6" x2="1220.0" y2="600.6" stroke="#25258f" stroke-width="1.75" />
<line x1="1250.1" y1="591.0" x2="1250.1" y2="589.5" stroke="#b8343f" stroke-width="1.75" stroke-dasharray="18.5 11"/>
<line x1="1250.1" y1="596.0" x2="1250.1" y2="594.5" stroke="#b8343f" stroke-width="1.75" stroke-dasharray="18.5 11"/>
<line x1="1247.1" y1="589.5" x2="1253.1" y2="589.5" stroke="#b8343f" stroke-width="1.75" />
<line x1="1247.1" y1="596.0" x2="1253.1" y2="596.0" stroke="#b8343f" stroke-width="1.75" />
<rect x="1244.5" y="591.0" width="11.2" height="3.5" fill="#e8303c" fill-opacity="0.6" stroke="#b8343f" stroke-width="1.75"/>
<line x1="1244.5" y1="592.8" x2="1255.7" y2="592.8" stroke="#b8343f" stroke-width="1.75" />
<line x1="1264.6" y1="592.3" x2="1264.6" y2="590.0" stroke="#50c850" stroke-width="1.75" stroke-dasharray="18.5 11"/>
<line x1="1264.6" y1="608.5" x2="1264.6" y2="601.4" stroke="#50c850" stroke-width="1.75" stroke-dasharray="18.5 11"/>
<line x1="1261.6" y1="590.0" x2="1267.6" y2="590.0" stroke="#50c850" stroke-width="1.75" />
<line x1="1261.6" y1="608.5" x2="1267.6" y2="608.5" stroke="#50c850" stroke-width="1.75" />
<rect x="1259.0" y="592.3" width="11.2" height="9.1" fill="none" stroke="#50c850" stroke-width="1.75"/>
<line x1="1259.0" y1="596.8" x2="1270.2" y2="596.8" stroke="#50c850" stroke-width="1.75" />
<line x1="1279.1" y1="598.6" x2="1279.1" y2="597.0" stroke="#25258f" stroke-width="1.75" stroke-dasharray="18.5 11"/>
<line x1="1279.1" y1="606.0" x2="1279.1" y2="604.5" stroke="#25258f" stroke-width="1.75" stroke-dasharray="18.5 11"/>
<line x1="1276.1" y1="597.0" x2="1282.1" y2="597.0" stroke="#25258f" stroke-width="1.75" />
<line x1="1276.1" y1="606.0" x2="1282.1" y2="606.0" stroke="#25258f" stroke-width="1.75" />
<rect x="1273.5" y="598.6" width="11.2" height="5.9" fill="#3a3ae0" fill-opacity="0.6" stroke="#25258f" stroke-width="1.75"/>
<line x1="1273.5" y1="601.5" x2="1284.7" y2="601.5" stroke="#25258f" stroke-width="1.75" />
<line x1="1314.8" y1="548.2" x2="1314.8" y2="525.9" stroke="#b8343f" stroke-width="1.75" stroke-dasharray="18.5 11"/>
<line x1="1314.8" y1="587.7" x2="1314.8" y2="570.5" stroke="#b8343f" stroke-width="1.75" stroke-dasharray="18.5 11"/>
<line x1="1311.8" y1="525.9" x2="1317.8" y2="525.9" stroke="#b8343f" stroke-width="1.75" />
<line x1="1311.8" y1="587.7" x2="1317.8" y2="587.7" stroke="#b8343f" stroke-width="1.75" />
<rect x="1309.2" y="548.2" width="11.2" height="22.3" fill="none" stroke="#b8343f" stroke-width="1.75"/>
<line x1="1309.2" y1="562.6" x2="1320.4" y2="562.6" stroke="#b8343f" stroke-width="1.75" />
<line x1="1329.3" y1="570.9" x2="1329.3" y2="559.5" stroke="#50c850" stroke-width="1.75" stroke-dasharray="18.5 11"/>
<line x1="1329.3" y1="590.0" x2="1329.3" y2="583.8" stroke="#50c850" stroke-width="1.75" stroke-dasharray="18.5 11"/>
<line x1="1326.3" y1="559.5" x2="1332.3" y2="559.5" stroke="#50c850" stroke-width="1.75" />
<line x1="1326.3" y1="590.0" x2="1332.3" y2="590.0" stroke="#50c850" stroke-width="1.75" />
<rect x="1323.7" y="570.9" width="11.2" height="12.9" fill="none" stroke="#50c850" stroke-width="1.75"/>
<line x1="1323.7" y1="576.5" x2="1334.9" y2="576.5" stroke="#50c850" stroke-width="1.75" />
<line x1="1343.8" y1="581.8" x2="1343.8" y2="574.5" stroke="#25258f" stroke-width="1.75" stroke-dasharray="18.5 11"/>
<line x1="1343.8" y1="600.0" x2="1343.8" y2="597.6" stroke="#25258f" stroke-width="1.75" stroke-dasharray="18.5 11"/>
<line x1="1340.8" y1="574.5" x2="1346.8" y2="574.5" stroke="#25258f" stroke-width="1.75" />
<line x1="1340.8" y1="600.0" x2="1346.8" y2="600.0" stroke="#25258f" stroke-width="1.75" />
<rect x="1338.2" y="581.8" width="11.2" height="15.8" fill="none" stroke="#25258f" stroke-width="1.75"/>
<line x1="1338.2" y1="593.1" x2="1349.4" y2="593.1" stroke="#25258f" stroke-width="1.75" />
<line x1="1379.5" y1="571.7" x2="1379.5" y2="553.7" stroke="#b8343f" stroke-width="1.75" stroke-dasharray="18.5 11"/>
<line x1="1379.5" y1="601.4" x2="1379.5" y2="588.8" stroke="#b8343f" stroke-width="1.75" stroke-dasharray="18.5 11"/>
<line x1="1376.5" y1="553.7" x2="1382.5" y2="553.7" stroke="#b8343f" stroke-width="1.75" />
<line x1="1376.5" y1="601.4" x2="1382.5" y2="601.4" stroke="#b8343f" stroke-width="1.75" />
<rect x="1373.9" y="571.7" width="11.2" height="17.1" fill="none" stroke="#b8343f" stroke-width="1.75"/>
<line x1="1373.9" y1="580.0" x2="1385.1" y2="580.0" stroke="#b8343f" stroke-width="1.75" />
<line x1="1394.0" y1="583.6" x2="1394.0" y2="578.4" stroke="#50c850" stroke-width="1.75" stroke-dasharray="18.5 11"/>
<line x1="1394.0" y1="597.0" x2="1394.0" y2="594.1" stroke="#50c850" stroke-width="1.75" stroke-dasharray="18.5 11"/>
<line x1="1391.0" y1="578.4" x2="1397.0" y2="578.4" stroke="#50c850" stroke-width="1.75" />
<line x1="1391.0" y1="597.0" x2="1397.0" y2="597.0" stroke="#50c850" stroke-width="1.75" />
<rect x="1388.4" y="583.6" width="11.2" height="10.5" fill="none" stroke="#50c850" stroke-width="1.75"/>
<line x1="1388.4" y1="587.8" x2="1399.6" y2="587.8" stroke="#50c850" stroke-width="1.75" />
<line x1="1408.5" y1="589.9" x2="1408.5" y2="586.0" stroke="#25258f" stroke-width="1.75" stroke-dasharray="18.5 11"/>
<line x1="1408.5" y1="604.5" x2="1408.5" y2="599.7" stroke="#25258f" stroke-width="1.75" stroke-dasharray="18.5 11"/>
<line x1="1405.5" y1="586.0" x2="1411.5" y2="586.0" stroke="#25258f" stroke-width="1.75" />
<line x1="1405.5" y1="604.5" x2="1411.5" y2="604.5" stroke="#25258f" stroke-width="1.75" />
<rect x="1402.9" y="589.9" width="11.2" height="9.8" fill="none" stroke="#25258f" stroke-width="1.75"/>
<line x1="1402.9" y1="594.1" x2="1414.1" y2="594.1" stroke="#25258f" stroke-width="1.75" />
<line x1="1444.2" y1="573.1" x2="1444.2" y2="554.9" stroke="#b8343f" stroke-width="1.75" stroke-dasharray="18.5 11"/>
<line x1="1444.2" y1="598.2" x2="1444.2" y2="593.0" stroke="#b8343f" stroke-width="1.75" stroke-dasharray="18.5 11"/>
<line x1="1441.2" y1="554.9" x2="1447.2" y2="554.9" stroke="#b8343f" stroke-width="1.75" />
<line x1="1441.2" y1="598.2" x2="1447.2" y2="598.2" stroke="#b8343f" stroke-width="1.75" />
<rect x="1438.6" y="573.1" width="11.2" height="19.9" fill="none" stroke="#b8343f" stroke-width="1.75"/>
<line x1="1438.6" y1="578.4" x2="1449.8" y2="578.4" stroke="#b8343f" stroke-width="1.75" />
<line x1="1458.7" y1="580.5" x2="1458.7" y2="578.4" stroke="#50c850" stroke-width="1.75" stroke-dasharray="18.5 11"/>
<line x1="1458.7" y1="597.0" x2="1458.7" y2="593.0" stroke="#50c850" stroke-width="1.75" stroke-dasharray="18.5 11"/>
<line x1="1455.7" y1="578.4" x2="1461.7" y2="578.4" stroke="#50c850" stroke-width="1.75" />
<line x1="1455.7" y1="597.0" x2="1461.7" y2="597.0" stroke="#50c850" stroke-width="1.75" />
<rect x="1453.1" y="580.5" width="11.2" height="12.5" fill="none" stroke="#50c850" stroke-width="1.75"/>
<line x1="1453.1" y1="585.7" x2="1464.3" y2="585.7" stroke="#50c850" stroke-width="1.75" />
<line x1="1473.2" y1="593.0" x2="1473.2" y2="589.9" stroke="#25258f" stroke-width="1.75" stroke-dasharray="18.5 11"/>
<line x1="1473.2" y1="608.0" x2="1473.2" y2="602.4" stroke="#25258f" stroke-width="1.75" stroke-dasharray="18.5 11"/>
<line x1="1470.2" y1="589.9" x2="1476.2" y2="589.9" stroke="#25258f" stroke-width="1.75" />
<line x1="1470.2" y1="608.0" x2="1476.2" y2="608.0" stroke="#25258f" stroke-width="1.75" />
<rect x="1467.6" y="593.0" width="11.2" height="9.4" fill="none" stroke="#25258f" stroke-width="1.75"/>
<line x1="1467.6" y1="598.2" x2="1478.8" y2="598.2" stroke="#25258f" stroke-width="1.75" />
<line x1="1508.9" y1="575.9" x2="1508.9" y2="564.8" stroke="#b8343f" stroke-width="1.75" stroke-dasharray="18.5 11"/>
<line x1="1508.9" y1="597.6" x2="1508.9" y2="596.2" stroke="#b8343f" stroke-width="1.75" stroke-dasharray="18.5 11"/>
<line x1="1505.9" y1="564.8" x2="1511.9" y2="564.8" stroke="#b8343f" stroke-width="1.75" />
<line x1="1505.9" y1="597.6" x2="1511.9" y2="597.6" stroke="#b8343f" stroke-width="1.75" />
<rect x="1503.3" y="575.9" width="11.2" height="20.3" fill="none" stroke="#b8343f" stroke-width="1.75"/>
<line x1="1503.3" y1="580.0" x2="1514.5" y2="580.0" stroke="#b8343f" stroke-width="1.75" />
<line x1="1523.4" y1="582.6" x2="1523.4" y2="577.3" stroke="#50c850" stroke-width="1.75" stroke-dasharray="18.5 11"/>
<line x1="1523.4" y1="608.0" x2="1523.4" y2="596.2" stroke="#50c850" stroke-width="1.75" stroke-dasharray="18.5 11"/>
<line x1="1520.4" y1="577.3" x2="1526.4" y2="577.3" stroke="#50c850" stroke-width="1.75" />
<line x1="1520.4" y1="608.0" x2="1526.4" y2="608.0" stroke="#50c850" stroke-width="1.75" />
<rect x="1517.8" y="582.6" width="11.2" height="13.6" fill="none" stroke="#50c850" stroke-width="1.75"/>
<line x1="1517.8" y1="588.4" x2="1529.0" y2="588.4" stroke="#50c850" stroke-width="1.75" />
<line x1="1537.9" y1="588.8" x2="1537.9" y2="585.7" stroke="#25258f" stroke-width="1.75" stroke-dasharray="18.5 11"/>
<line x1="1537.9" y1="605.6" x2="1537.9" y2="601.8" stroke="#25258f" stroke-width="1.75" stroke-dasharray="18.5 11"/>
<line x1="1534.9" y1="585.7" x2="1540.9" y2="585.7" stroke="#25258f" stroke-width="1.75" />
<line x1="1534.9" y1="605.6" x2="1540.9" y2="605.6" stroke="#25258f" stroke-width="1.75" />
<rect x="1532.3" y="588.8" width="11.2" height="13.0" fill="none" stroke="#25258f" stroke-width="1.75"/>
<line x1="1532.3" y1="595.1" x2="1543.5" y2="595.1" stroke="#25258f" stroke-width="1.75" />
<line x1="1573.6" y1="306.5" x2="1573.6" y2="280.7" stroke="#b8343f" stroke-width="1.75" stroke-dasharray="18.5 11"/>
<line x1="1573.6" y1="430.0" x2="1573.6" y2="395.6" stroke="#b8343f" stroke-width="1.75" stroke-dasharray="18.5 11"/>
<line x1="1570.6" y1="280.7" x2="1576.6" y2="280.7" stroke="#b8343f" stroke-width="1.75" />
<line x1="1570.6" y1="430.0" x2="1576.6" y2="430.0" stroke="#b8343f" stroke-width="1.75" />
<rect x="1568.0" y="306.5" width="11.2" height="89.1" fill="none" stroke="#b8343f" stroke-width="1.75"/>
<line x1="1568.0" y1="340.5" x2="1579.2" y2="340.5" stroke="#b8343f" stroke-width="1.75" />
<line x1="1588.1" y1="378.1" x2="1588.1" y2="342.5" stroke="#50c850" stroke-width="1.75" stroke-dasharray="18.5 11"/>
<line x1="1588.1" y1="430.0" x2="1588.1" y2="405.6" stroke="#50c850" stroke-width="1.75" stroke-dasharray="18.5 11"/>
<line x1="1585.1" y1="342.5" x2="1591.1" y2="342.5" stroke="#50c850" stroke-width="1.75" />
<line x1="1585.1" y1="430.0" x2="1591.1" y2="430.0" stroke="#50c850" stroke-width="1.75" />
<rect x="1582.5" y="378.1" width="11.2" height="27.5" fill="none" stroke="#50c850" stroke-width="1.75"/>
<line x1="1582.5" y1="395.6" x2="1593.7" y2="395.6" stroke="#50c850" stroke-width="1.75" />
<line x1="1602.6" y1="444.7" x2="1602.6" y2="425.0" stroke="#25258f" stroke-width="1.75" stroke-dasharray="18.5 11"/>
<line x1="1602.6" y1="507.2" x2="1602.6" y2="487.5" stroke="#25258f" stroke-width="1.75" stroke-dasharray="18.5 11"/>
<line x1="1599.6" y1="425.0" x2="1605.6" y2="425.0" stroke="#25258f" stroke-width="1.75" />
<line x1="1599.6" y1="507.2" x2="1605.6" y2="507.2" stroke="#25258f" stroke-width="1.75" />
<rect x="1597.0" y="444.7" width="11.2" height="42.8" fill="none" stroke="#25258f" stroke-width="1.75"/>
<line x1="1597.0" y1="477.5" x2="1608.2" y2="477.5" stroke="#25258f" stroke-width="1.75" />
<line x1="1638.3" y1="466.6" x2="1638.3" y2="458.8" stroke="#b8343f" stroke-width="1.75" stroke-dasharray="18.5 11"/>
<line x1="1638.3" y1="522.9" x2="1638.3" y2="512.4" stroke="#b8343f" stroke-width="1.75" stroke-dasharray="18.5 11"/>
<line x1="1635.3" y1="458.8" x2="1641.3" y2="458.8" stroke="#b8343f" stroke-width="1.75" />
<line x1="1635.3" y1="522.9" x2="1641.3" y2="522.9" stroke="#b8343f" stroke-width="1.75" />
<rect x="1632.7" y="466.6" width="11.2" height="45.8" fill="none" stroke="#b8343f" stroke-width="1.75"/>
<line x1="1632.7" y1="487.5" x2="1643.9" y2="487.5" stroke="#b8343f" stroke-width="1.75" />
<line x1="1652.8" y1="524.0" x2="1652.8" y2="497.8" stroke="#50c850" stroke-width="1.75" stroke-dasharray="18.5 11"/>
<line x1="1652.8" y1="550.1" x2="1652.8" y2="541.7" stroke="#50c850" stroke-width="1.75" stroke-dasharray="18.5 11"/>
<line x1="1649.8" y1="497.8" x2="1655.8" y2="497.8" stroke="#50c850" stroke-width="1.75" />
<line x1="1649.8" y1="550.1" x2="1655.8" y2="550.1" stroke="#50c850" stroke-width="1.75" />
<rect x="1647.2" y="524.0" width="11.2" height="17.7" fill="none" stroke="#50c850" stroke-width="1.75"/>
<line x1="1647.2" y1="534.0" x2="1658.4" y2="534.0" stroke="#50c850" stroke-width="1.75" />
<line x1="1667.3" y1="553.3" x2="1667.3" y2="543.8" stroke="#25258f" stroke-width="1.75" stroke-dasharray="18.5 11"/>
<line x1="1667.3" y1="572.0" x2="1667.3" y2="570.4" stroke="#25258f" stroke-width="1.75" stroke-dasharray="18.5 11"/>
<line x1="1664.3" y1="543.8" x2="1670.3" y2="543.8" stroke="#25258f" stroke-width="1.75" />
<line x1="1664.3" y1="572.0" x2="1670.3" y2="572.0" stroke="#25258f" stroke-width="1.75" />
<rect x="1661.7" y="553.3" width="11.2" height="17.1" fill="none" stroke="#25258f" stroke-width="1.75"/>
<line x1="1661.7" y1="567.9" x2="1672.9" y2="567.9" stroke="#25258f" stroke-width="1.75" />
<line x1="1112.6" y1="516.0" x2="1129.2" y2="516.0" stroke="#7a2632" stroke-width="2.3" />
<line x1="1120.9" y1="507.7" x2="1120.9" y2="524.3" stroke="#7a2632" stroke-width="2.3" />
<line x1="1241.5" y1="578.8" x2="1258.1" y2="578.8" stroke="#7a2632" stroke-width="2.3" />
<line x1="1249.8" y1="570.5" x2="1249.8" y2="587.1" stroke="#7a2632" stroke-width="2.3" />
<line x1="1241.5" y1="601.4" x2="1258.1" y2="601.4" stroke="#7a2632" stroke-width="2.3" />
<line x1="1249.8" y1="593.1" x2="1249.8" y2="609.7" stroke="#7a2632" stroke-width="2.3" />
<line x1="1370.5" y1="507.2" x2="1387.1" y2="507.2" stroke="#7a2632" stroke-width="2.3" />
<line x1="1378.8" y1="498.9" x2="1378.8" y2="515.5" stroke="#7a2632" stroke-width="2.3" />
<line x1="1062.4" y1="424.5" x2="1079.0" y2="424.5" stroke="#3aa83a" stroke-width="2.2" />
<line x1="1070.7" y1="416.2" x2="1070.7" y2="432.8" stroke="#3aa83a" stroke-width="2.2" />
<line x1="1127.5" y1="553.5" x2="1144.1" y2="553.5" stroke="#3aa83a" stroke-width="2.2" />
<line x1="1135.8" y1="545.2" x2="1135.8" y2="561.8" stroke="#3aa83a" stroke-width="2.2" />
<line x1="1515.6" y1="541.1" x2="1532.2" y2="541.1" stroke="#3aa83a" stroke-width="2.2" />
<line x1="1523.9" y1="532.8" x2="1523.9" y2="549.4" stroke="#3aa83a" stroke-width="2.2" />
<line x1="1580.1" y1="324.2" x2="1596.7" y2="324.2" stroke="#3aa83a" stroke-width="2.2" />
<line x1="1588.4" y1="315.9" x2="1588.4" y2="332.5" stroke="#3aa83a" stroke-width="2.2" />
<line x1="1077.0" y1="546.8" x2="1093.6" y2="546.8" stroke="#16164e" stroke-width="2.3" />
<line x1="1085.3" y1="538.5" x2="1085.3" y2="555.1" stroke="#16164e" stroke-width="2.3" />
<line x1="1400.9" y1="566.2" x2="1417.5" y2="566.2" stroke="#16164e" stroke-width="2.3" />
<line x1="1409.2" y1="557.9" x2="1409.2" y2="574.5" stroke="#16164e" stroke-width="2.3" />
<line x1="1594.5" y1="364.0" x2="1611.1" y2="364.0" stroke="#16164e" stroke-width="2.3" />
<line x1="1602.8" y1="355.7" x2="1602.8" y2="372.3" stroke="#16164e" stroke-width="2.3" />
<line x1="1658.9" y1="527.1" x2="1675.5" y2="527.1" stroke="#16164e" stroke-width="2.3" />
<line x1="1667.2" y1="518.8" x2="1667.2" y2="535.4" stroke="#16164e" stroke-width="2.3" />
</g>
</svg></body></html>
